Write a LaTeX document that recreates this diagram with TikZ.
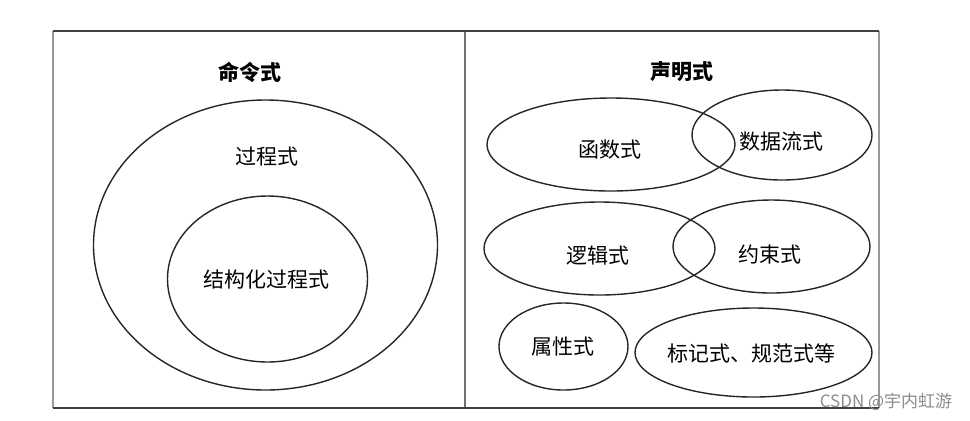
\documentclass[tikz,border=0pt]{standalone}
\usepackage{fontspec}
\newfontfamily\cjk{Noto Sans CJK SC}
\begin{document}
\begin{tikzpicture}[x=0.5pt,y=-0.5pt,
  lbl/.style={font=\cjk\fontsize{10.5}{12}\selectfont, inner sep=0pt},
  ttl/.style={font=\cjk\bfseries\fontsize{10.5}{12}\selectfont, inner sep=0pt},
  ring/.style={black!85, line width=0.7pt}]

\useasboundingbox (0,0) rectangle (970,420);

%draw frame
\draw[black!40, line width=0.6pt] (53,31) -- (53,408);
\draw[black!40, line width=0.6pt] (879,31) -- (879,408);
\draw[black!55, line width=0.8pt] (465,31) -- (465,408);
\draw[black!75, line width=1.1pt] (53,31) -- (879,31);
\draw[black!75, line width=1.1pt] (53,408) -- (879,408);

%label panels
\node[ttl] (imp) at (250,72) {命令式};
\node[ttl] (decl) at (682,72) {声明式};

%draw left side sets
\draw[ring] (265.5,245) ellipse [x radius=172, y radius=145];
\draw[ring] (267.5,279) ellipse [x radius=100, y radius=83];
\node[lbl] (proc) at (267,157) {过程式};
\node[lbl] (struct) at (266,280) {结构化过程式};

%draw right side sets
\foreach \cx/\cy/\rx/\ry in {611/144.5/124/46.5, 782/135/90/45,
    599.5/248.5/115.5/46.5, 771.5/246.5/98.5/46.5,
    563.5/346.5/64.5/43.5, 753.5/352.5/118.5/44.5}
    {
    \draw[ring] (\cx,\cy) ellipse [x radius=\rx, y radius=\ry];
    }
\node[lbl] (func) at (610,150) {函数式};
\node[lbl] (flow) at (781,142) {数据流式};
\node[lbl] (logic) at (598,256) {逻辑式};
\node[lbl] (constr) at (770,255) {约束式};
\node[lbl] (attr) at (563,347) {属性式};
\node[lbl] (markup) at (751,353) {标记式、规范式等};

%watermark
\node[font=\cjk\fontsize{8.5}{10}\selectfont, text=black!45, inner sep=0pt] (mark) at (886,402) {CSDN @宇内虹游};

\end{tikzpicture}
\end{document}
